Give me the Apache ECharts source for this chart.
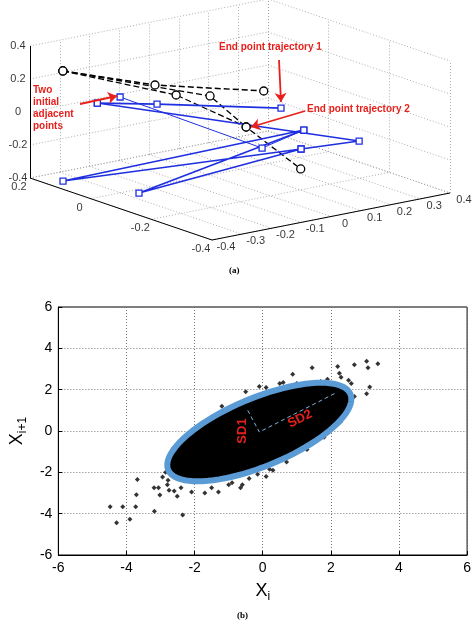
<!DOCTYPE html>
<html>
<head>
<meta charset="utf-8">
<script src="https://cdn.jsdelivr.net/npm/echarts@6/dist/echarts.min.js"></script>
<style>html,body{margin:0;padding:0;background:#fff}#main{width:474px;height:624px}</style>
</head>
<body>
<div id="main"></div>
<script>
// (a) 3D trajectories, points as [x, y, z]
var black1 = [[0.169, -0.321, 0.24], [0.093, -0.089, 0.12], [-0.035, 0.146, 0.08]];
var black2 = [[0.169, -0.321, 0.24], [0.087, -0.024, 0.04], [-0.032, 0.09, -0.12], [-0.153, 0.15, -0.32]];
var black3 = [[0.169, -0.321, 0.24], [0.04, 0.042, 0.04], [-0.032, 0.09, -0.12]];
var blue1 = [[0.133, -0.242, 0.04], [0.095, -0.08, 0], [-0.039, 0.2, -0.04]];
var blue2 = [[0.133, -0.242, 0.04], [-0.174, 0.325, -0.2], [-0.112, 0.193, -0.24], [0.101, -0.39, -0.36], [-0.08, 0.235, -0.16], [-0.024, -0.262, -0.4], [-0.112, 0.193, -0.24]];
var blue3 = [[0.102, -0.197, 0.08], [-0.059, 0.116, -0.24], [-0.08, 0.235, -0.16]];
var xTicks = [0.2, 0, -0.2, -0.4];
var yTicks = [-0.4, -0.3, -0.2, -0.1, 0, 0.1, 0.2, 0.3, 0.4];
var zTicks = [-0.4, -0.2, 0, 0.2, 0.4];

// (b) Poincare plot
var outliers = [[-4.48, -3.67], [-4.29, -4.44], [-4.11, -3.67], [-3.9, -4.27], [-3.73, -3.67], [-3.68, -2.35], [-3.71, -3.08],
  [-3.18, -3.88], [-3.19, -2.74], [-3.06, -2.74], [-3.02, -3.1], [-2.94, -2.22], [-2.78, -2.38], [-2.75, -2.87], [-2.63, -0.85],
  [-2.51, -3.16], [-2.35, -4.07], [-2.09, -2.95], [-1.3, -2.95], [-0.65, -2.75], [-0.15, -2.09], [-0.92, 1.08], [0.88, 2.74],
  [1.45, 3.06], [2.2, 3.12], [2.69, 3.2], [3.05, 3.38], [3.09, 3.06], [3.38, 3.25], [3.14, 2.13], [3.05, 1.8], [2.69, 1.67],
  [2.28, 0.43], [1.57, -0.45], [2.52, 2.45], [-1.7, -3.0], [0.3, -1.9], [1.0, -1.0], [-1.5, 0.0], [-2.2, -1.3], [0.5, 2.3],
  [1.9, 2.5], [2.4, 1.1], [-2.8, -2.6], [-2.6, -2.9], [-1.0, -2.6], [0.1, 2.1], [-0.3, 1.6], [2.3, 2.6], [1.2, -0.6],
  [-2.85, -2.0], [-2.7, -1.6], [-2.4, -2.75], [-1.5, -2.75], [-0.9, -2.5], [-0.4, -2.3], [0.2, -1.85], [0.7, -1.5],
  [1.3, -0.9], [1.8, -0.3], [2.2, 0.5], [2.5, 1.2], [2.6, 2.3], [2.25, 2.8], [1.7, 2.4], [1.0, 2.3], [0.6, 2.35],
  [-0.1, 2.15], [-0.5, 1.9], [-1.2, 1.2], [-1.8, 0.3], [-2.3, -0.6], [-2.5, -1.1], [0.1, -2.2], [-0.6, -2.6]];
var ellipse = { cx: -0.1, cy: -0.05, a: 3.3, b: 1.45, angle: 39.7 };
var sd1End = [-0.44, 1.0];
var sd2End = [2.19, 1.88];

function proj(p) {
  var u = (0.2 - p[0]) / 0.6, v = (p[1] + 0.4) / 0.8, w = (p[2] + 0.4) / 0.8;
  return [30 + 182 * u + 238 * v, 178 + 62 * u - 47 * v - 132 * w];
}
function seg(a, b) { return { coords: [proj(a), proj(b)] }; }

var grid3d = [];
xTicks.forEach(function (x) {
  grid3d.push(seg([x, -0.4, -0.4], [x, 0.4, -0.4]));
  grid3d.push(seg([x, 0.4, -0.4], [x, 0.4, 0.4]));
});
yTicks.forEach(function (y) {
  grid3d.push(seg([0.2, y, -0.4], [-0.4, y, -0.4]));
  grid3d.push(seg([0.2, y, -0.4], [0.2, y, 0.4]));
});
zTicks.forEach(function (z) {
  grid3d.push(seg([0.2, -0.4, z], [0.2, 0.4, z]));
  grid3d.push(seg([0.2, 0.4, z], [-0.4, 0.4, z]));
});
var axes3d = [
  seg([0.2, -0.4, -0.4], [-0.4, -0.4, -0.4]),
  seg([-0.4, -0.4, -0.4], [-0.4, 0.4, -0.4]),
  seg([0.2, -0.4, -0.4], [0.2, -0.4, 0.4])
];
function tickLabels(ticks, fn, dx, dy) {
  return ticks.map(function (t) {
    var s = proj(fn(t));
    return { value: [s[0] + dx, s[1] + dy], name: String(t) };
  });
}
var labels3d = []
  .concat(tickLabels(xTicks, function (t) { return [t, -0.4, -0.4]; }, -11, 9))
  .concat(tickLabels(yTicks, function (t) { return [-0.4, t, -0.4]; }, 14, 7))
  .concat(tickLabels(zTicks, function (t) { return [0.2, -0.4, t]; }, -12, 0));

function traj(pts, color, dashed, symbol, size, width) {
  return {
    type: 'line', xAxisIndex: 0, yAxisIndex: 0, data: pts.map(proj),
    symbol: symbol, symbolSize: size, showAllSymbol: true,
    lineStyle: { color: color, width: width, type: dashed ? [6, 3] : 'solid' },
    itemStyle: { color: '#fff', borderColor: color, borderWidth: 1.3 },
    animation: false, z: 5
  };
}

var font = 'Arial, Liberation Sans, sans-serif';
var red = '#e8201c';
var axisCommon = {
  type: 'value', min: -6, max: 6, interval: 2,
  axisLine: { onZero: false, lineStyle: { color: '#000' } }, axisTick: { inside: true, length: 4 },
  axisLabel: { color: '#000', fontSize: 14, fontFamily: font, margin: 6 },
  splitLine: { lineStyle: { color: '#777', type: [1, 2] } }
};
var chart = echarts.init(document.getElementById('main'));
chart.setOption({
  animation: false,
  grid: [
    { left: 0, top: 0, width: 474, height: 280 },
    { left: 49, right: 6, top: 307, bottom: 69, show: true, borderColor: '#000', borderWidth: 1 }
  ],
  xAxis: [
    { gridIndex: 0, type: 'value', min: 0, max: 474, show: false },
    Object.assign({ gridIndex: 1, name: 'X{s|i}', nameLocation: 'middle', nameGap: 24,
      nameTextStyle: { color: '#000', fontSize: 18, fontFamily: font, rich: { s: { fontSize: 12, verticalAlign: 'bottom', padding: [12, 0, 0, 0] } } } }, axisCommon)
  ],
  yAxis: [
    { gridIndex: 0, type: 'value', min: 0, max: 280, inverse: true, show: false },
    Object.assign({ gridIndex: 1, name: 'X{s|i+1}', nameLocation: 'middle', nameGap: 26,
      nameTextStyle: { color: '#000', fontSize: 18, fontFamily: font, rich: { s: { fontSize: 12, padding: [12, 0, 0, 0] } } } }, axisCommon)
  ],
  series: [
    { type: 'lines', coordinateSystem: 'cartesian2d', xAxisIndex: 0, yAxisIndex: 0, data: grid3d,
      lineStyle: { color: '#999', width: 0.8, type: [1, 2], opacity: 1 }, silent: true },
    { type: 'lines', coordinateSystem: 'cartesian2d', xAxisIndex: 0, yAxisIndex: 0, data: axes3d,
      lineStyle: { color: '#000', width: 1, opacity: 1 }, silent: true },
    { type: 'scatter', xAxisIndex: 0, yAxisIndex: 0, data: labels3d, symbolSize: 0,
      label: { show: true, position: 'inside', formatter: '{b}', color: '#000', fontSize: 11, fontFamily: font } },
    traj(black1, '#000', true, 'circle', 8, 1.5),
    traj(black2, '#000', true, 'circle', 8, 1.3),
    traj(black3, '#000', true, 'circle', 8, 1.3),
    traj(blue1, '#1f2fe0', false, 'rect', 6, 1.8),
    traj(blue2, '#1f2fe0', false, 'rect', 6, 1.6),
    traj(blue3, '#1f2fe0', false, 'rect', 6, 1),
    { type: 'lines', coordinateSystem: 'cartesian2d', xAxisIndex: 0, yAxisIndex: 0, z: 6,
      symbol: ['none', 'arrow'], symbolSize: 9,
      lineStyle: { color: red, width: 1.8, opacity: 1 },
      data: [
        { coords: [[279, 60], [281, 102]] },
        { coords: [[305, 111], [251, 127]] },
        { coords: [[80, 104], [117, 96]] }
      ] },
    // (b)
    { type: 'scatter', xAxisIndex: 1, yAxisIndex: 1, data: outliers, symbol: 'diamond', symbolSize: 5,
      itemStyle: { color: '#000' }, z: 1 },
    { type: 'custom', xAxisIndex: 1, yAxisIndex: 1, data: [[ellipse.cx, ellipse.cy]], z: 2,
      renderItem: function (params, api) {
        var pts = [], r = ellipse.angle * Math.PI / 180;
        for (var i = 0; i < 90; i++) {
          var t = i / 90 * 2 * Math.PI;
          var ex = ellipse.a * Math.cos(t), ey = ellipse.b * Math.sin(t);
          pts.push(api.coord([ellipse.cx + ex * Math.cos(r) - ey * Math.sin(r), ellipse.cy + ex * Math.sin(r) + ey * Math.cos(r)]));
        }
        return { type: 'polygon', shape: { points: pts }, style: { fill: '#000', stroke: '#5b9bd5', lineWidth: 6 } };
      } },
    { type: 'line', xAxisIndex: 1, yAxisIndex: 1, data: [sd1End, [ellipse.cx, ellipse.cy], sd2End], symbol: 'none', z: 3,
      lineStyle: { color: '#7fb2e0', width: 1, type: [4, 3] } }
  ],
  graphic: [
    { type: 'text', left: 219, top: 42, style: { text: 'End point trajectory 1', fill: red, font: 'bold 10px ' + font } },
    { type: 'text', left: 307, top: 104, style: { text: 'End point trajectory 2', fill: red, font: 'bold 10px ' + font } },
    { type: 'text', left: 33, top: 84, style: { text: 'Two\ninitial\nadjacent\npoints', fill: red, font: 'bold 10px ' + font, lineHeight: 12 } },
    { type: 'text', left: 229, top: 266, style: { text: '(a)', fill: '#000', font: 'bold 9px Liberation Serif, serif' } },
    { type: 'text', left: 237, top: 611, style: { text: '(b)', fill: '#000', font: 'bold 9px Liberation Serif, serif' } },
    { type: 'text', x: 300, y: 419, rotation: 26 * Math.PI / 180, style: { text: 'SD2', fill: red, font: 'bold 13px ' + font, align: 'center', verticalAlign: 'middle' }, z: 10 },
    { type: 'text', x: 242, y: 431, rotation: Math.PI / 2, style: { text: 'SD1', fill: red, font: 'bold 13px ' + font, align: 'center', verticalAlign: 'middle' }, z: 10 }
  ]
});
</script>
</body>
</html>
